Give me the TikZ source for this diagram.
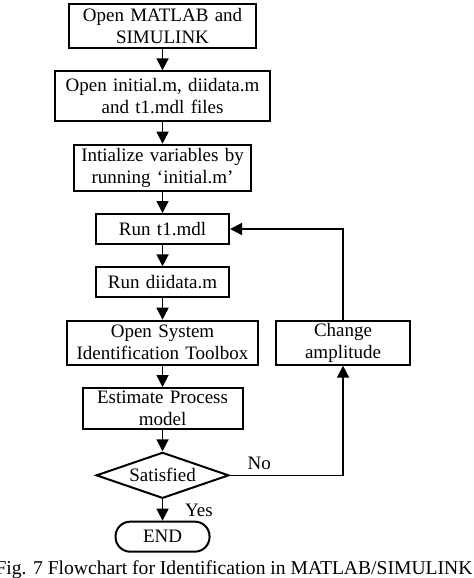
\documentclass[tikz,border=0pt]{standalone}
\usepackage{fontspec}
\setmainfont{Liberation Serif}
\usetikzlibrary{shapes.geometric, arrows.meta, positioning}

\begin{document}
\begin{tikzpicture}[
    node distance=16pt and 10.5pt,
    every node/.style={font=\fontsize{14.25}{16.5}\selectfont},
    stage/.style={rectangle, draw, line width=1.5pt, text centered, inner xsep=0pt, inner ysep=0.5pt},
    decision/.style={diamond, draw, line width=1.5pt, aspect=2.88, inner sep=0pt, minimum width=99.5pt, minimum height=34.5pt},
    terminal/.style={rectangle, draw, rounded corners=11pt, line width=1.5pt, minimum width=70.5pt, minimum height=22.5pt, inner ysep=0.5pt},
    arrow/.style={-{Triangle[length=9pt,width=9pt]}, line width=1.2pt}
]
    \useasboundingbox (0,0) rectangle (355.5pt,-433.5pt);

    % Main column
    \node[stage, text width=140.25pt, minimum height=33pt] (matlab) at (121.9pt,-19.5pt) {Open MATLAB and\\SIMULINK};
    \node[stage, text width=161.25pt, minimum height=37.5pt, below=of matlab] (files) {Open initial.m, diidata.m\\and t1.mdl files};
    \node[stage, text width=132.75pt, minimum height=34.5pt, below=of files] (init) {Intialize variables by\\running ‘initial.m’};
    \node[stage, text width=99.75pt, minimum height=22.5pt, below=of init] (run) {Run t1.mdl};
    \node[stage, text width=99.75pt, minimum height=22.5pt, below=of run] (diidata) {Run diidata.m};
    \node[stage, text width=143.25pt, minimum height=33pt, below=of diidata] (toolbox) {Open System\\Identification Toolbox};
    \node[stage, text width=120pt, minimum height=30.75pt, below=of toolbox] (estimate) {Estimate Process\\model};

    % Decision and end
    \node[decision, below=of estimate] (satisfied) {Satisfied};
    \node[terminal, below=of satisfied] (end) {END};

    % Feedback branch
    \node[stage, text width=100.5pt, minimum height=33pt, right=12pt of toolbox] (amplitude) {Change\\amplitude};

    % Caption
    \node[font=\fontsize{14.7}{16.5}\selectfont, anchor=base] (caption) at (175.5pt,-430.5pt) {Fig. 7 Flowchart for Identification in MATLAB/SIMULINK};

    % Arrows
    \draw[arrow] (matlab) -- (files);
    \draw[arrow] (files) -- (init);
    \draw[arrow] (init) -- (run);
    \draw[arrow] (run) -- (diidata);
    \draw[arrow] (diidata) -- (toolbox);
    \draw[arrow] (toolbox) -- (estimate);
    \draw[arrow] (estimate) -- (satisfied);
    \draw[arrow] (satisfied) -- node[right=13pt] {Yes} (end);
    \draw[arrow] (satisfied.east) -| node[pos=0.13, above] {No} (amplitude.south);
    \draw[arrow] (amplitude.north) |- (run.east);

\end{tikzpicture}
\end{document}
